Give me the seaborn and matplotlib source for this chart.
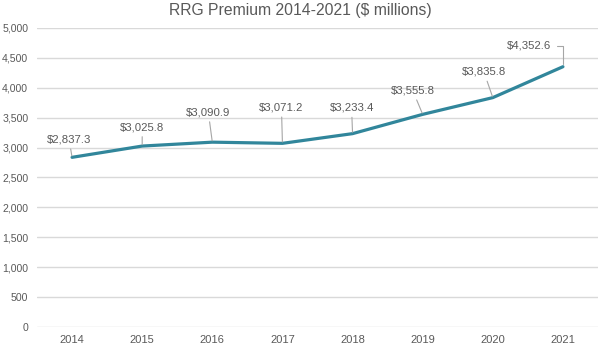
import matplotlib
matplotlib.use("Agg")
import matplotlib.pyplot as plt
import seaborn as sns
import pandas as pd

years = ["2014", "2015", "2016", "2017", "2018", "2019", "2020", "2021"]
premium = [2837.3, 3025.8, 3090.9, 3071.2, 3233.4, 3555.8, 3835.8, 4352.6]
y_ticks = [0, 500, 1000, 1500, 2000, 2500, 3000, 3500, 4000, 4500, 5000]

# label centre offsets (pixels) from each point, joined by leader lines
label_offsets = [(-3, 18), (0, 19), (-4, 30), (-1, 36), (-1, 26), (-10, 24), (-9, 26), (-34, 21)]

sns.set_theme(style="white")
plt.rcParams["font.family"] = ["Liberation Sans", "DejaVu Sans"]

df = pd.DataFrame({"year": years, "premium": premium})
df["pos"] = range(len(years))

fig = plt.figure(figsize=(6.0, 3.45), dpi=100)
ax = fig.add_axes([37 / 600, 18 / 345, 561 / 600, 299 / 345])

grey = "#595959"
for t in y_ticks:
    ax.axhline(t, color="#D9D9D9", lw=1.0, zorder=0)

sns.lineplot(data=df, x="pos", y="premium", ax=ax, color="#31869B", lw=2.3, zorder=3)

last = len(premium) - 1
for i, (v, (dx, dy)) in enumerate(zip(premium, label_offsets)):
    if i == last:
        arrow = dict(arrowstyle="-", color="#A6A6A6", lw=0.8, shrinkA=2, shrinkB=2,
                     relpos=(1.0, 0.5), connectionstyle="angle,angleA=0,angleB=90,rad=0")
    else:
        arrow = dict(arrowstyle="-", color="#A6A6A6", lw=0.8, shrinkA=1, shrinkB=1)
    ax.annotate(f"${v:,.1f}", xy=(i, v), xytext=(dx, dy), textcoords="offset pixels",
                ha="center", va="center", fontsize=8.2, color=grey, arrowprops=arrow)

ax.set_xlim(-0.5, len(years) - 0.5)
ax.set_ylim(0, 5000)
ax.set_xticks(range(len(years)))
ax.set_xticklabels(years)
ax.set_yticks(y_ticks)
ax.set_yticklabels([f"{t:,}" for t in y_ticks])
ax.tick_params(axis="x", labelsize=8, colors=grey, length=0, pad=6)
ax.tick_params(axis="y", labelsize=7.6, colors=grey, length=0, pad=6.3)
ax.set_xlabel("")
ax.set_ylabel("")
for s in ax.spines.values():
    s.set_visible(False)

fig.text(0.5, 0.99, "RRG Premium 2014-2021 ($ millions)", ha="center", va="top",
         fontsize=11.3, color=grey)

fig.savefig("out.png", dpi=100, facecolor="white")
